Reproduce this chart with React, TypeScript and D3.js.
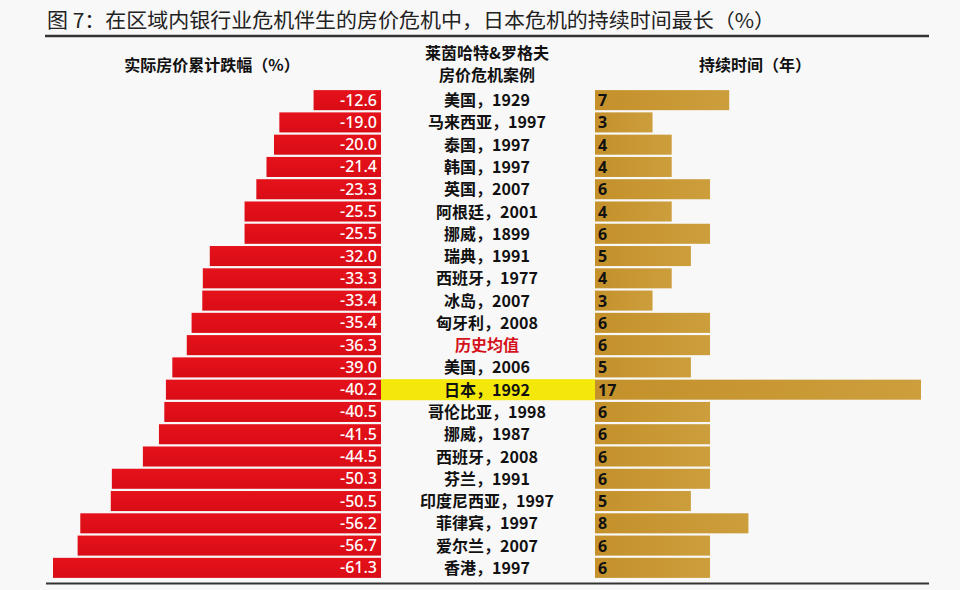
import React from "react";
import * as d3 from "d3";

const title = "图 7：在区域内银行业危机伴生的房价危机中，日本危机的持续时间最长（%）";
const leftHeader = "实际房价累计跌幅（%）";
const midHeader = ["莱茵哈特&罗格夫", "房价危机案例"];
const rightHeader = "持续时间（年）";

const cases = [
  "美国，1929", "马来西亚，1997", "泰国，1997", "韩国，1997", "英国，2007",
  "阿根廷，2001", "挪威，1899", "瑞典，1991", "西班牙，1977", "冰岛，2007",
  "匈牙利，2008", "历史均值", "美国，2006", "日本，1992", "哥伦比亚，1998",
  "挪威，1987", "西班牙，2008", "芬兰，1991", "印度尼西亚，1997", "菲律宾，1997",
  "爱尔兰，2007", "香港，1997",
];
const declines = [
  -12.6, -19.0, -20.0, -21.4, -23.3, -25.5, -25.5, -32.0, -33.3, -33.4, -35.4,
  -36.3, -39.0, -40.2, -40.5, -41.5, -44.5, -50.3, -50.5, -56.2, -56.7, -61.3,
];
const durations = [7, 3, 4, 4, 6, 4, 6, 5, 4, 3, 6, 6, 5, 17, 6, 6, 6, 6, 5, 8, 6, 6];
const averageLabel = "历史均值";
const highlightLabel = "日本，1992";

const CJK = "'Noto Sans CJK SC', 'Noto Sans', sans-serif";

export default function App() {
  const W = 960, H = 590;
  const y = d3.scaleBand<string>().domain(cases).range([89, 579]).paddingInner(0.1).paddingOuter(0.05);
  const xL = d3.scaleLinear().domain([-61.3, 0]).range([53, 381]);
  const xR = d3.scaleLinear().domain([0, 17]).range([595, 921]);
  const bw = y.bandwidth();

  return (
    <svg width={W} height={H} style={{ position: "absolute", left: 0, top: 0, background: "#f8f8f8" }}>
      <defs>
        <linearGradient id="gold" x1="0" x2="1" y1="0" y2="0">
          <stop offset="0" stopColor="#c4912b" />
          <stop offset="1" stopColor="#cc9e3c" />
        </linearGradient>
        <linearGradient id="red" x1="0" x2="0" y1="0" y2="1">
          <stop offset="0" stopColor="#e5121b" />
          <stop offset="1" stopColor="#d90c15" />
        </linearGradient>
      </defs>
      <rect x={0} y={0} width={W} height={H} fill="#f8f8f8" />
      <text x={47} y={28} fontFamily={CJK} fontSize={20} fill="#222" textLength={728} lengthAdjust="spacingAndGlyphs">{title}</text>
      <line x1={45} x2={929} y1={36} y2={36} stroke="#333" strokeWidth={2.5} />

      <text x={212} y={71} textAnchor="middle" fontFamily={CJK} fontWeight={700} fontSize={16} fill="#111">{leftHeader}</text>
      <text x={487} y={59} textAnchor="middle" fontFamily={CJK} fontWeight={700} fontSize={16} fill="#111">{midHeader[0]}</text>
      <text x={487} y={81} textAnchor="middle" fontFamily={CJK} fontWeight={700} fontSize={16} fill="#111">{midHeader[1]}</text>
      <text x={755} y={71} textAnchor="middle" fontFamily={CJK} fontWeight={700} fontSize={16} fill="#111">{rightHeader}</text>

      {cases.map((c, i) => {
        const top = y(c)!;
        const cy = top + bw / 2;
        const hl = c === highlightLabel;
        return (
          <g key={c}>
            {hl && <rect x={xL(0)} y={top - 0.5} width={xR(0) - xL(0)} height={bw + 1} fill="#f3e80a" />}
            <rect x={xL(declines[i])} y={top} width={xL(0) - xL(declines[i])} height={bw} fill="url(#red)" />
            <text x={xL(0) - 4} y={cy + 5.5} textAnchor="end" fontFamily="'Noto Sans', sans-serif" fontWeight={500} fontSize={16} fill="#fff">
              {d3.format(".1f")(declines[i]).replace("−", "-")}
            </text>
            <text x={487} y={cy + 6} textAnchor="middle" fontFamily={CJK} fontWeight={700} fontSize={16}
              fill={c === averageLabel ? "#d4111b" : "#111"}>{c}</text>
            <rect x={xR(0)} y={top} width={xR(durations[i]) - xR(0)} height={bw} fill="url(#gold)" />
            <text x={xR(0) + 3} y={cy + 6} fontFamily="'Noto Sans', sans-serif" fontWeight={700} fontSize={16} fill="#111">{durations[i]}</text>
          </g>
        );
      })}

      <line x1={46} x2={929} y1={583.5} y2={583.5} stroke="#333" strokeWidth={2} />
    </svg>
  );
}
